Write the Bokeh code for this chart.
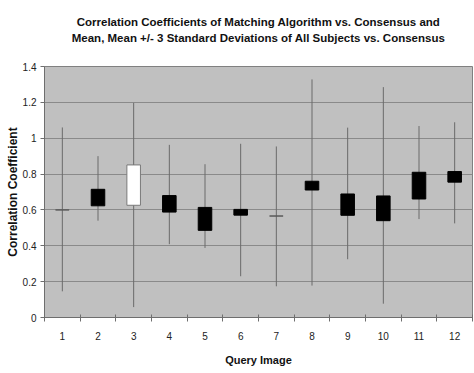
from bokeh.plotting import figure
from bokeh.models import Range1d, FixedTicker, Title, ColumnDataSource
from bokeh.embed import file_html
from bokeh.resources import INLINE

# ---- data ----
categories = [1, 2, 3, 4, 5, 6, 7, 8, 9, 10, 11, 12]
x_labels = ["1", "2", "3", "4", "5", "6", "7", "8", "9", "10", "11", "12"]
high = [1.06, 0.90, 1.197, 0.963, 0.855, 0.969, 0.954, 1.328, 1.059, 1.285, 1.068, 1.089]
low = [0.146, 0.54, 0.058, 0.409, 0.388, 0.23, 0.174, 0.178, 0.325, 0.077, 0.549, 0.525]
open_ = [0.60, 0.715, 0.626, 0.68, 0.614, 0.603, 0.566, 0.76, 0.689, 0.678, 0.81, 0.814]
close = [0.60, 0.623, 0.851, 0.588, 0.486, 0.571, 0.566, 0.711, 0.57, 0.54, 0.661, 0.755]
y_ticks = [0, 0.2, 0.4, 0.6, 0.8, 1.0, 1.2, 1.4]
y_tick_labels = ["0", "0.2", "0.4", "0.6", "0.8", "1", "1.2", "1.4"]
title_line1 = "Correlation Coefficients of Matching Algorithm vs. Consensus and"
title_line2 = "Mean, Mean +/- 3 Standard Deviations of All Subjects vs. Consensus"
x_title = "Query Image"
y_title = "Correlation Coefficient"

FONT = "Liberation Sans"

top = [max(o, c) for o, c in zip(open_, close)]
bottom = [min(o, c) for o, c in zip(open_, close)]
fill = []
edge = []
for o, c in zip(open_, close):
    if c > o:
        fill.append("white"); edge.append("#7a7a7a")
    elif c < o:
        fill.append("black"); edge.append("black")
    else:
        fill.append("#5a5a5a"); edge.append("#5a5a5a")

src = ColumnDataSource(dict(x=categories, high=high, low=low, top=top, bottom=bottom,
                            fill=fill, edge=edge))

p = figure(width=474, height=373, output_backend="svg", toolbar_location=None,
           x_range=Range1d(0.5, 12.5), y_range=Range1d(0, 1.4),
           min_border_left=44, min_border_right=2, min_border_top=66, min_border_bottom=56)

p.background_fill_color = "#c0c0c0"
p.border_fill_color = "white"
p.outline_line_color = "#808080"
p.outline_line_width = 1

# titles: p.title is outermost; the first added title sits nearest the plot
p.title.text = title_line1
p.title.text_font = FONT
p.title.text_font_size = "11.5px"
p.title.text_font_style = "bold"
p.title.align = "center"
p.title.text_color = "#111111"
p.title.standoff = 2
p.add_layout(Title(text=" ", text_font=FONT, text_font_size="11.5px",
                   align="center", standoff=8), "above")
p.add_layout(Title(text=title_line2, text_font=FONT, text_font_size="11.5px",
                   text_font_style="bold", align="center", text_color="#111111",
                   standoff=2), "above")

# whiskers
p.segment(x0="x", y0="low", x1="x", y1="high", source=src, line_color="#6a6a6a", line_width=1)
# boxes
p.vbar(x="x", top="top", bottom="bottom", width=0.38, source=src,
       fill_color="fill", line_color="edge", line_width=1)

# axes
xa = p.xaxis[0]
xa.ticker = FixedTicker(ticks=categories, minor_ticks=[c + 0.5 for c in [0] + categories])
xa.major_label_overrides = {c: l for c, l in zip(categories, x_labels)}
xa.major_tick_out = 0
xa.major_tick_in = 0
xa.minor_tick_out = 4
xa.minor_tick_in = 3
xa.minor_tick_line_color = "#6e6e6e"
xa.axis_line_color = "#6e6e6e"
xa.major_label_standoff = 10
xa.major_label_text_font = FONT
xa.major_label_text_font_size = "10px"
xa.major_label_text_color = "#222222"
xa.axis_label = x_title
xa.axis_label_text_font = FONT
xa.axis_label_text_font_size = "11px"
xa.axis_label_text_font_style = "bold"
xa.axis_label_text_color = "#111111"
xa.axis_label_standoff = 11

ya = p.yaxis[0]
ya.ticker = FixedTicker(ticks=y_ticks, minor_ticks=[])
ya.major_label_overrides = {t: l for t, l in zip(y_ticks, y_tick_labels)}
ya.major_tick_out = 4
ya.major_tick_in = 0
ya.major_tick_line_color = "#6e6e6e"
ya.axis_line_color = "#6e6e6e"
ya.major_label_standoff = 4
ya.major_label_text_font = FONT
ya.major_label_text_font_size = "10px"
ya.major_label_text_color = "#222222"
ya.axis_label = y_title
ya.axis_label_text_font = FONT
ya.axis_label_text_font_size = "12px"
ya.axis_label_text_font_style = "bold"
ya.axis_label_text_color = "#111111"
ya.axis_label_standoff = 0

p.xgrid.visible = False
p.ygrid.ticker = FixedTicker(ticks=y_ticks)
p.ygrid.grid_line_color = "#8a8a8a"
p.ygrid.grid_line_width = 1

open("out.html", "w").write(file_html(p, INLINE))
